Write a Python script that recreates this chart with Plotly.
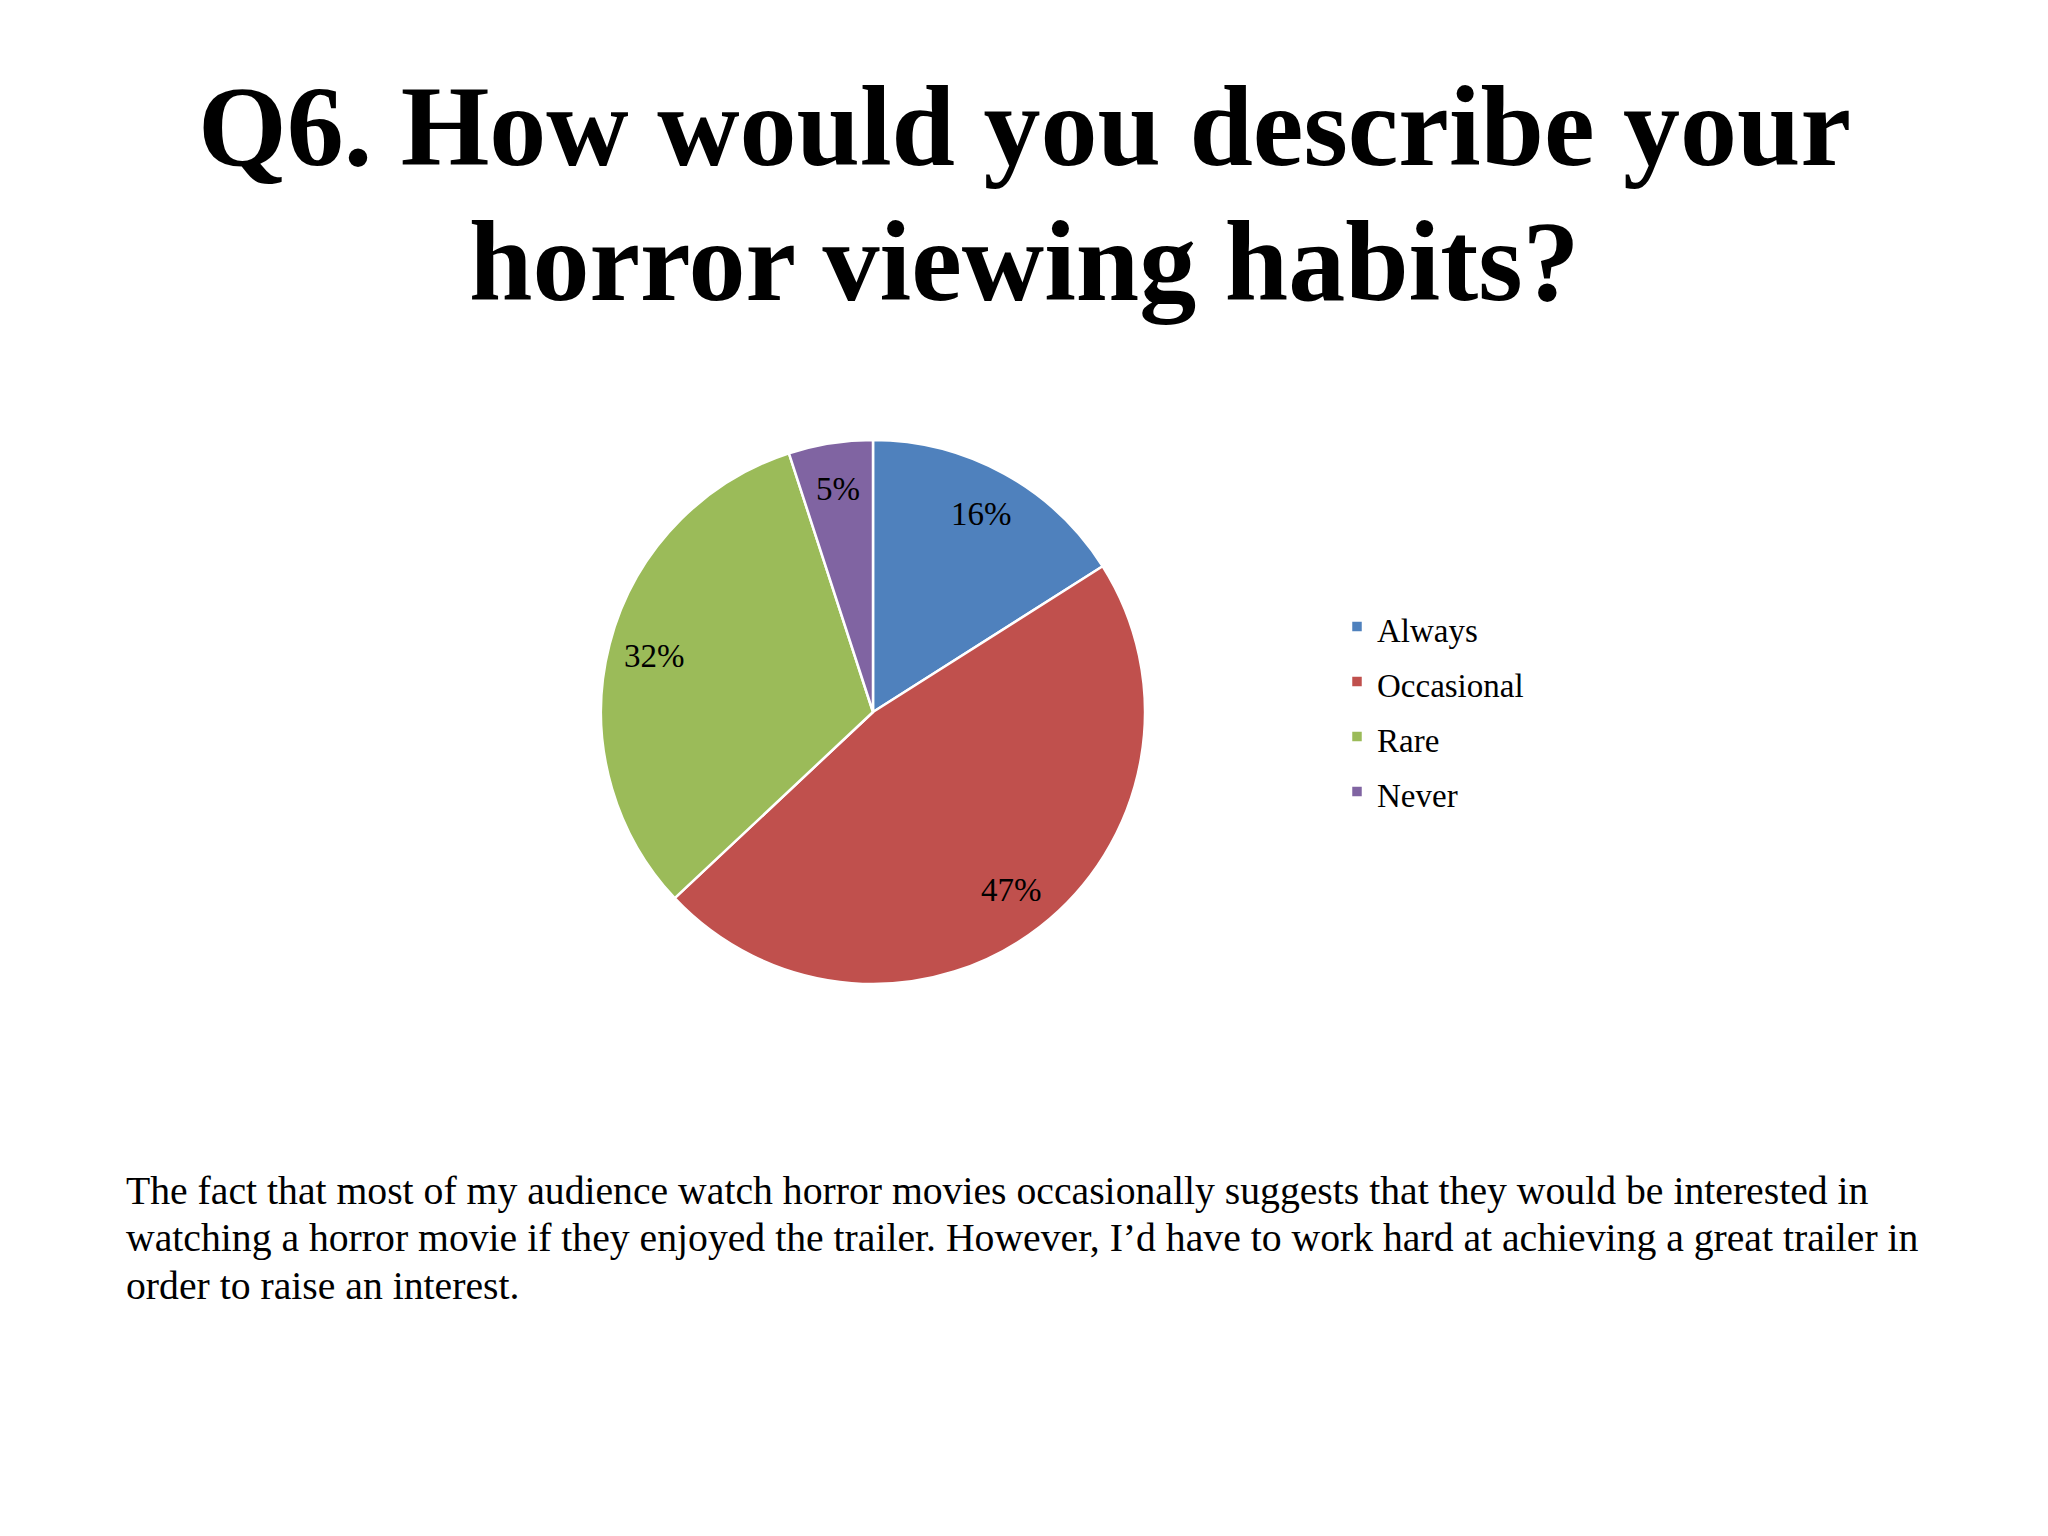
import math
import plotly.graph_objects as go

categories = ["Always", "Occasional", "Rare", "Never"]
percent_values = [16, 47, 32, 5]
slice_colors = ["#4F81BD", "#C0504D", "#9BBB59", "#8064A2"]

title_line1 = "Q6. How would you describe your"
title_line2 = "horror viewing habits?"
body_lines = [
    "The fact that most of my audience watch horror movies occasionally suggests that they would be interested in",
    "watching a horror movie if they enjoyed the trailer. However, I\u2019d have to work hard at achieving a great trailer in",
    "order to raise an interest.",
]

W, H = 2048, 1536
cx, cy, r = 873, 712, 272
label_radius_frac = 0.83

fig = go.Figure()
fig.add_trace(go.Pie(
    labels=[f"<span style='font-size:33px'>{c}</span>" for c in categories],
    values=percent_values,
    sort=False,
    direction="clockwise",
    rotation=0,
    marker=dict(colors=slice_colors, line=dict(color="white", width=2.5)),
    textinfo="none",
    domain=dict(x=[(cx - r) / W, (cx + r) / W], y=[(H - cy - r) / H, (H - cy + r) / H]),
    hoverinfo="percent",
))

annotations = [
    dict(text="<b>" + title_line1 + "</b>", x=0.5, y=1 - 127 / H, xref="paper", yref="paper",
         xanchor="center", yanchor="middle", showarrow=False,
         font=dict(family="Liberation Serif", size=114, color="black")),
    dict(text="<b>" + title_line2 + "</b>", x=0.5, y=1 - 261 / H, xref="paper", yref="paper",
         xanchor="center", yanchor="middle", showarrow=False,
         font=dict(family="Liberation Serif", size=114, color="black")),
]
body_centers = [1191, 1238, 1286]
for line, yc in zip(body_lines, body_centers):
    annotations.append(dict(text=line, x=124 / W, y=1 - yc / H, xref="paper", yref="paper",
                            xanchor="left", yanchor="middle", align="left", showarrow=False,
                            font=dict(family="Liberation Serif", size=39.7, color="black")))

# percentage labels placed along each slice's mid-angle (derived from the data)
total = sum(percent_values)
cum = 0
for v in percent_values:
    mid = (cum + v / 2) / total * 2 * math.pi
    cum += v
    px = cx + label_radius_frac * r * math.sin(mid)
    py = cy - label_radius_frac * r * math.cos(mid)
    annotations.append(dict(text=f"{round(100 * v / total)}%", x=px / W, y=1 - py / H,
                            xref="paper", yref="paper", xanchor="center", yanchor="middle",
                            showarrow=False,
                            font=dict(family="Liberation Serif", size=33, color="black")))

fig.update_layout(
    width=W, height=H,
    margin=dict(l=0, r=0, t=0, b=0),
    paper_bgcolor="white",
    plot_bgcolor="white",
    showlegend=True,
    legend=dict(
        x=1337 / W, y=1 - 594 / H, xanchor="left", yanchor="top",
        font=dict(family="Liberation Serif", size=40, color="black"),
        bgcolor="rgba(0,0,0,0)",
    ),
    annotations=annotations,
)

fig.write_html("out.html", config={"displayModeBar": False},
               post_script="document.body.style.margin='0';")
